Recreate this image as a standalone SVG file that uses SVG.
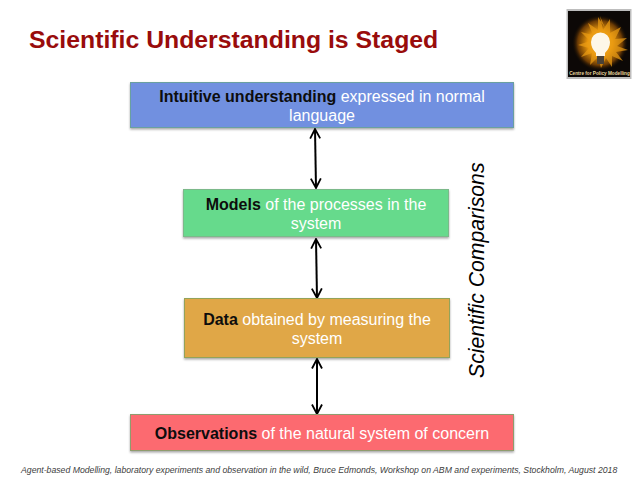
<svg xmlns="http://www.w3.org/2000/svg" width="638" height="478" viewBox="0 0 638 478">
<style>
text{font-family:"Liberation Sans",Arial,sans-serif}
.lbl{font-size:16px;fill:#fff;text-anchor:middle}
.lbl .k{font-weight:bold;fill:#0d0d0d}
.box{stroke-width:1}
.conn{fill:none;stroke:#000;stroke-width:2;marker-start:url(#a);marker-end:url(#a)}
</style>
<defs>
<marker id="a" viewBox="0 0 12 12" refX="11" refY="6" markerWidth="6" markerHeight="6" orient="auto-start-reverse" markerUnits="strokeWidth">
<path d="M1.500 1L11 6L1.500 11" fill="none" stroke="#000" stroke-width="1.8"/>
</marker>
<filter id="s" x="-3%" y="-10%" width="106%" height="125%"><feDropShadow dx="0" dy="1.5" stdDeviation="1.2" flood-color="#000" flood-opacity=".35"/></filter>
<radialGradient id="g"><stop offset="0" stop-color="#ffd860"/><stop offset=".45" stop-color="#e8960c"/><stop offset=".8" stop-color="#6a3a04"/><stop offset="1" stop-color="#120a02" stop-opacity="0"/></radialGradient>
</defs>
<rect width="638" height="478" fill="#fff"/>
<text id="title" x="29" y="48" font-size="24.800" font-weight="bold" fill="#990c0c">Scientific Understanding is Staged</text>
<g id="logo">
<rect x="566.500" y="9" width="65" height="70" fill="#bdbdbd"/>
<rect x="568" y="11" width="62" height="66" fill="#0c0806"/>
<circle cx="600" cy="43" r="28" fill="url(#g)"/>
<path d="M600 16l3 14 7-11 0 14 11-6-6 12 12-1-10 8 11 4-12 2 7 9-11-5 0 11-6-9-5 10-3-11-8 8 2-12-11 4 8-9-11-3 12-4-9-9 12 3-5-12 10 7 0-13 7 11z" fill="#eb9d14" opacity=".7"/>
<path d="M596 56v-3q-5-5-5-11a9.500 9.500 0 0 1 19 0q0 6-5 11v3z" fill="#fdf7e8"/>
<rect x="597" y="56" width="7" height="8" fill="#4a4237"/>
<text x="599.500" y="74.500" font-size="4.700" font-weight="bold" fill="#e8d9a0" text-anchor="middle">Centre for Policy Modelling</text>
</g>
<g id="connectors">
<path class="conn" d="M315 129L316 188"/>
<path class="conn" d="M316 239L317 298"/>
<path class="conn" d="M317 359L317 414"/>
</g>
<g id="intuitive">
<rect class="box" x="130.500" y="82.500" width="383" height="45" fill="#7190e0" stroke="#6aa0a0" filter="url(#s)"/>
<text class="lbl" x="322" y="102"><tspan class="k">Intuitive understanding</tspan> expressed in normal</text>
<text class="lbl" x="322" y="121">language</text>
</g>
<g id="models">
<rect class="box" x="183.500" y="189.500" width="265" height="47" fill="#66da8c" stroke="#7cb98a" filter="url(#s)"/>
<text class="lbl" x="316" y="210"><tspan class="k">Models</tspan> of the processes in the</text>
<text class="lbl" x="316" y="229">system</text>
</g>
<g id="data">
<rect class="box" x="184.500" y="298.500" width="265" height="59" fill="#e0a747" stroke="#93a35a" filter="url(#s)"/>
<text class="lbl" x="317" y="325"><tspan class="k">Data</tspan> obtained by measuring the</text>
<text class="lbl" x="317" y="344">system</text>
</g>
<g id="observations">
<rect class="box" x="130.500" y="414.500" width="383" height="36" fill="#fc6b6f" stroke="#8f9c6e" filter="url(#s)"/>
<text class="lbl" x="322" y="439"><tspan class="k">Observations</tspan> of the natural system of concern</text>
</g>
<text id="comparisons" transform="translate(484 378) rotate(-90)" font-size="21.200" font-style="italic" fill="#000">Scientific Comparisons</text>
<text id="footer" x="21" y="472.500" font-size="8.700" font-style="italic" fill="#404040">Agent-based Modelling, laboratory experiments and observation in the wild, Bruce Edmonds, Workshop on ABM and experiments, Stockholm, August  2018</text>
</svg>
